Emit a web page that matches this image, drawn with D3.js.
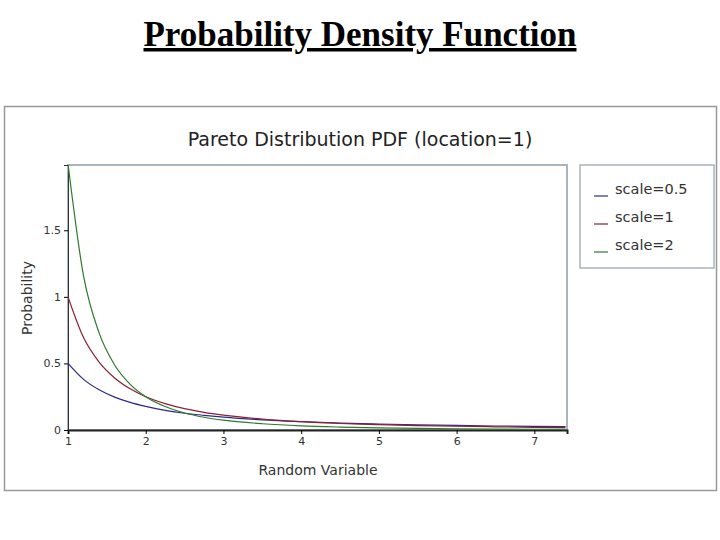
<!DOCTYPE html><html><head><meta charset="utf-8"><script src="https://cdn.jsdelivr.net/npm/d3@7"></script>
<style>body{margin:0;background:#fff}</style></head><body><svg id="c" width="720" height="540"></svg>
<script>
const xs=[1,1.2,1.4,1.6,1.8,2,2.25,2.5,2.75,3,3.5,4,4.5,5,5.5,6,6.5,7,7.4];
const s05=[.5,.380,.302,.247,.207,.177,.148,.126,.110,.096,.076,.0625,.052,.045,.039,.034,.030,.027,.025];
const s1=[1,.694,.510,.391,.309,.25,.198,.16,.132,.111,.082,.0625,.049,.04,.033,.028,.024,.020,.018];
const s2=[2,1.157,.729,.488,.343,.25,.176,.128,.096,.074,.047,.031,.022,.016,.012,.0093,.0073,.0058,.0049];
const seriesNames=["scale=0.5","scale=1","scale=2"];
const colors=["#2b2b8c","#8b2030","#2d7a2d"];
const xTicks=[1,2,3,4,5,6,7], yTicks=[0,0.5,1,1.5];
const svg=d3.select("#c");
svg.append("text").attr("x",360).attr("y",46).attr("text-anchor","middle").attr("font-family","Liberation Serif").attr("font-weight","bold").attr("font-size",35).attr("text-decoration","underline").text("Probability Density Function");
svg.append("rect").attr("x",4.5).attr("y",106.5).attr("width",712).attr("height",384).attr("fill","none").attr("stroke","#999").attr("stroke-width",1.5);
svg.append("text").attr("x",360).attr("y",146).attr("text-anchor","middle").attr("font-family","DejaVu Sans").attr("font-size",19).attr("fill","#222").text("Pareto Distribution PDF (location=1)");
const L=68,R=567,T=165,B=430;
const x=d3.scaleLinear().domain([1,7.42]).range([L,R]);
const y=d3.scaleLinear().domain([0,1.99]).range([B,T]);
svg.append("rect").attr("x",L).attr("y",T).attr("width",R-L).attr("height",B-T).attr("fill","#fff").attr("stroke","#a9b4bd").attr("stroke-width",2);
svg.append("defs").append("clipPath").attr("id","cp").append("rect").attr("x",L).attr("y",T).attr("width",R-L).attr("height",B-T);
const ax=svg.append("g").attr("transform",`translate(0,${B})`).call(d3.axisBottom(x).tickValues(xTicks).tickFormat(d3.format("d")).tickSize(4));
ax.selectAll("text").attr("font-family","DejaVu Sans").attr("font-size",11).attr("fill","#333");
ax.select(".domain").attr("stroke","#222").attr("stroke-width",2);
const ay=svg.append("g").attr("transform",`translate(${L},0)`).call(d3.axisLeft(y).tickValues(yTicks).tickFormat(d=>d).tickSize(4));
ay.selectAll("text").attr("font-family","DejaVu Sans").attr("font-size",11).attr("fill","#333");
ay.select(".domain").attr("stroke","#333");
svg.append("text").attr("x",318).attr("y",475).attr("text-anchor","middle").attr("font-family","DejaVu Sans").attr("font-size",14).attr("fill","#333").text("Random Variable");
svg.append("text").attr("transform","translate(32,298) rotate(-90)").attr("text-anchor","middle").attr("font-family","DejaVu Sans").attr("font-size",14).attr("fill","#333").text("Probability");
const line=d3.line().x((d,i)=>x(xs[i])).y(d=>y(d)).curve(d3.curveMonotoneX);
[s05,s1,s2].forEach((s,i)=>svg.append("path").attr("d",line(s)).attr("clip-path","url(#cp)").attr("fill","none").attr("stroke",colors[i]).attr("stroke-width",1.2));
svg.append("rect").attr("x",580).attr("y",165).attr("width",134).attr("height",103).attr("fill","#fff").attr("stroke","#a9b4bd").attr("stroke-width",1.5);
seriesNames.forEach((n,i)=>{const yy=196+i*28;
svg.append("line").attr("x1",594).attr("x2",608).attr("y1",yy).attr("y2",yy).attr("stroke",colors[i]).attr("stroke-width",1.2);
svg.append("text").attr("x",615).attr("y",yy-2).attr("font-family","DejaVu Sans").attr("font-size",14.5).attr("fill","#333").text(n);});
</script></body></html>
